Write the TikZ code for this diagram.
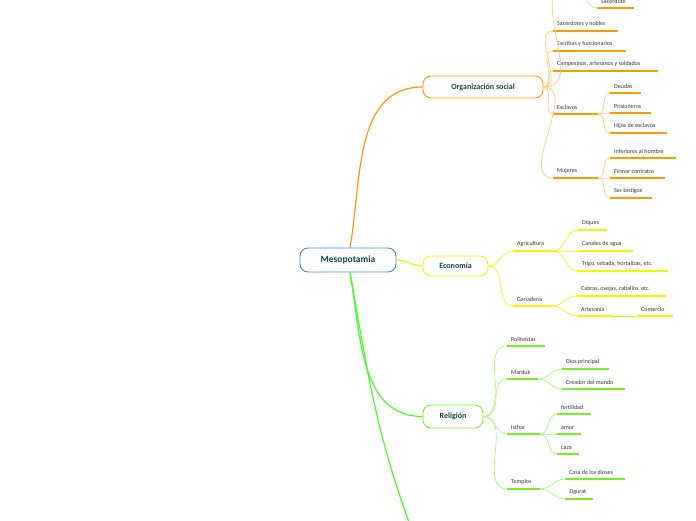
\documentclass[tikz,border=0pt]{standalone}
\usepackage{fontspec}
\setmainfont{Carlito}
\definecolor{org}{HTML}{FF9900}
\definecolor{orgl}{HTML}{FFCC77}
\definecolor{yel}{HTML}{F5F500}
\definecolor{yell}{HTML}{F8F870}
\definecolor{grn}{HTML}{77EE22}
\definecolor{grnl}{HTML}{AAF57A}
\definecolor{gmain}{HTML}{44FF22}
\definecolor{blu}{HTML}{3A8EDB}
\definecolor{txt}{HTML}{0E4A3C}
\tikzset{
 lbl/.style={inner sep=1pt,font=\fontsize{6}{7}\selectfont,text=black!80},
 topic/.style={draw,rounded corners=8pt,line width=0.9pt,fill=white,font=\fontsize{8}{9}\bfseries,text=txt,inner sep=0pt},
 conn/.style={line width=0.7pt},
}
\newcommand\leaf[6]{%
 \coordinate (#1s) at (#2,#4); \coordinate (#1e) at (#3,#4);
 \draw[#6,line width=1.3pt] (#1s)--(#1e);
 \node[lbl,anchor=south west] (#1) at (#2+3,#4-3) {#5};}
\begin{document}
\begin{tikzpicture}[x=1pt,y=-1pt]
\useasboundingbox (0,0) rectangle (696,520);
% main
\node[topic,draw=blu,minimum width=96pt,minimum height=24pt,font=\fontsize{9.5}{11}\bfseries] (meso) at (348,260) {Mesopotamia};
\node[topic,draw=org,minimum width=120pt,minimum height=22pt] (org) at (483,87) {Organización social};
\node[topic,draw=yel,minimum width=65pt,minimum height=20pt] (eco) at (455.5,266) {Economía};
\node[topic,draw=grn,minimum width=60pt,minimum height=23pt] (rel) at (453,416.5) {Religión};
\coordinate (bottom) at (410,525);
\coordinate (offtop) at (575,-12);
\draw[org,line width=1.2pt] (meso.north) ++(2,0) coordinate (mo) (mo) to[out=80,in=180] (org.west);
\draw[yel,line width=1.2pt] (meso.east) to[out=0,in=180] (eco.west);
\draw[gmain,line width=1.2pt] (meso.south) ++(2,0) coordinate (mg) (mg) to[out=-80,in=180] (rel.west);
\draw[gmain,line width=1.2pt] (mg) to[out=-80,in=110] (bottom);
% Organizacion social
\leaf{sac}{597}{634}{8}{Sacerdote}{org}
\leaf{sn}{553}{618}{31}{Sacerdotes y nobles}{org}
\leaf{ef}{553}{626}{51}{Escribas y funcionarios}{org}
\leaf{ca}{553}{658}{71}{Campesinos, artesanos y soldados}{org}
\leaf{es}{553}{598}{114}{Esclavos}{org}
\leaf{de}{610}{641}{93}{Deudas}{org}
\leaf{pr}{610}{651}{113}{Prisioneros}{org}
\leaf{hi}{610}{667}{133}{Hijos de esclavos}{org}
\leaf{mu}{553}{598}{178}{Mujeres}{org}
\leaf{in}{610}{676}{158}{Inferiores al hombre}{org}
\leaf{fi}{610}{665}{178}{Firmar contratos}{org}
\leaf{st}{610}{652}{198}{Ser testigos}{org}
\foreach \c in {sn,ef,ca,es,mu} \draw[orgl,conn] (org.east) to[out=0,in=180] (\c s);
\draw[orgl,conn] (org.east) to[out=0,in=-100] (553,-5);
\draw[orgl,conn] (offtop) to[out=0,in=180] (sacs);
\foreach \c in {de,pr,hi} \draw[orgl,conn] (ese) to[out=0,in=180] (\c s);
\foreach \c in {in,fi,st} \draw[orgl,conn] (mue) to[out=0,in=180] (\c s);
% Economia
\leaf{ag}{513}{553}{251}{Agricultura}{yel}
\leaf{di}{578}{607}{230}{Diques}{yel}
\leaf{cn}{578}{633}{251}{Canales de agua}{yel}
\leaf{tr}{578}{668}{271}{Trigo, cebada, hortalizas, etc.}{yel}
\leaf{ga}{513}{552}{306}{Ganadería}{yel}
\leaf{cb}{577}{666}{296}{Cabras, ovejas, caballos, etc.}{yel}
\leaf{ar}{577}{613}{316}{Artesanía}{yel}
\leaf{co}{637}{673}{316}{Comercio}{yel}
\foreach \c in {ag,ga} \draw[yel,conn] (eco.east) to[out=0,in=180] (\c s);
\foreach \c in {di,cn,tr} \draw[yel,conn] (age) to[out=0,in=180] (\c s);
\foreach \c in {cb,ar} \draw[yel,conn] (gae) to[out=0,in=180] (\c s);
\draw[yel,conn] (are) -- (cos);
% Religion
\leaf{po}{507}{545}{346}{Politeístas}{grn}
\leaf{ma}{507}{538}{379}{Marduk}{grn}
\leaf{dp}{562}{609}{369}{Dios principal}{grn}
\leaf{cr}{562}{625}{389}{Creador del mundo}{grn}
\leaf{is}{507}{540}{434}{Isthar}{grn}
\leaf{fe}{557}{591}{414}{fertilidad}{grn}
\leaf{am}{557}{581}{434}{amor}{grn}
\leaf{cz}{557}{579}{454}{caza}{grn}
\leaf{te}{507}{540}{489}{Templos}{grn}
\leaf{cd}{565}{625}{479}{Casa de los dioses}{grn}
\leaf{zi}{565}{593}{499}{Zigurat}{grn}
\foreach \c in {po,ma,is,te} \draw[grnl,conn] (rel.east) to[out=0,in=180] (\c s);
\foreach \c in {dp,cr} \draw[grnl,conn] (mae) to[out=0,in=180] (\c s);
\foreach \c in {fe,am,cz} \draw[grnl,conn] (ise) to[out=0,in=180] (\c s);
\foreach \c in {cd,zi} \draw[grnl,conn] (tee) to[out=0,in=180] (\c s);
\end{tikzpicture}
\end{document}
